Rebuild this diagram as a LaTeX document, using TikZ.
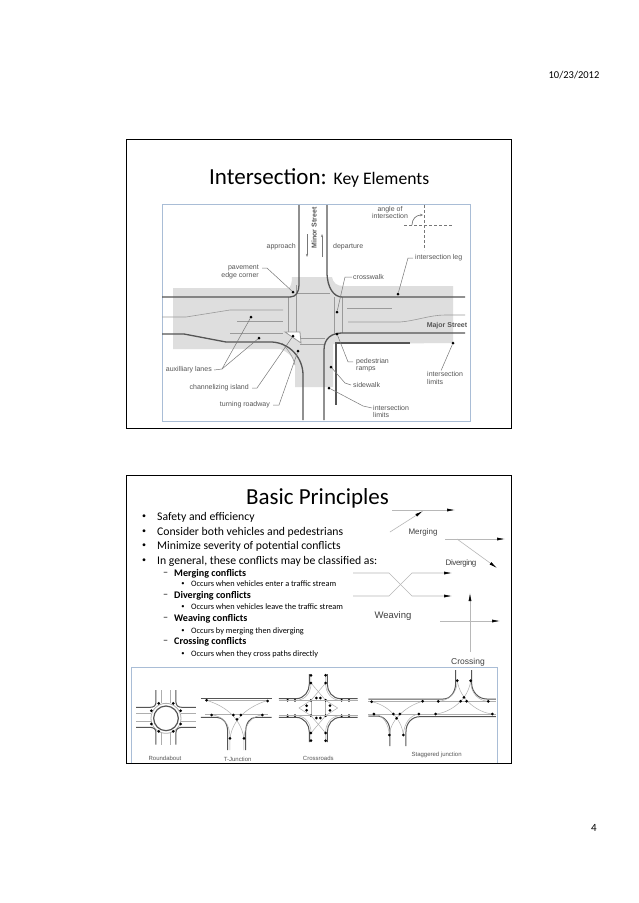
\documentclass[tikz,border=0pt]{standalone}
\usepackage{fontspec}
\setmainfont{Carlito}
\newfontfamily\arialf{Liberation Sans}
\usetikzlibrary{arrows.meta}
\newcommand{\fsz}[1]{\fontsize{#1}{#1}\selectfont}
\definecolor{roadc}{HTML}{555555}
\definecolor{lanec}{HTML}{9A9A9A}
\definecolor{padc}{HTML}{DEDEDE}
\definecolor{labc}{HTML}{555555}
\definecolor{blueb}{HTML}{A9BDD6}
\tikzset{
 x=1pt,y=-1pt,
 slideframe/.style={draw=black,line width=1pt},
 road/.style={draw=roadc,line width=1.3pt},
 lane/.style={draw=lanec,line width=.6pt},
 leader/.style={draw=labc!80,line width=.5pt},
 lbl/.style={font=\arialf\fsz{7},text=labc,inner sep=0pt,align=left},
 dotn/.style={circle,fill=black,inner sep=0pt,minimum size=3pt},
 jd/.style={circle,fill=black,inner sep=0pt,minimum size=3pt},
 jr/.style={draw=roadc,line width=1pt},
 jl/.style={draw=lanec!80,line width=.5pt},
 jlab/.style={font=\arialf\fsz{6},text=labc,inner sep=0pt},
 bul/.style={anchor=west,inner sep=0pt,font=\fsz{11.7}},
 bulm/.style={anchor=center,inner sep=0pt,font=\fsz{8}},
 subb/.style={anchor=west,inner sep=0pt,font=\bfseries\fsz{10.1}},
 subs/.style={anchor=west,inner sep=0pt,font=\fsz{8.3}},
 con/.style={draw=lanec!70,line width=.6pt},
 conar/.style={con,-{Latex[length=8pt,width=3pt,black]}},
 clab/.style={font=\arialf\fsz{8.5},text=black!75,inner sep=0pt},
}
\begin{document}
\begin{tikzpicture}
\useasboundingbox (0,0) rectangle (638,903);
\fill[white] (0,0) rectangle (638,903);
\node[inner sep=0pt,font=\fsz{10.5}] (date) at (574,75) {10/23/2012};
\node[inner sep=0pt,font=\fsz{11}] (pnum) at (594,828) {4};
% ---------- slide 1
\draw[slideframe] (126,139) rectangle (511,428);
\node[anchor=base west,inner sep=0pt] (title1) at (209,184) {\fsz{23}Intersection: \fsz{17.6}Key Elements};
\draw[blueb,line width=.7pt] (162,204) rectangle (470,421);
% pavement
\fill[padc] (173,288) -- (288,288) .. controls (291,288) and (292,282) .. (292,277) -- (332,277)
 .. controls (333,283) and (337,286) .. (343,286) -- (453,286) -- (453,343) -- (333,344) -- (333,387) -- (295,387)
 -- (295,365) .. controls (293,356) and (288,352) .. (280,349) -- (173,349) -- cycle;
% crosswalk lines
\draw[lane] (288,297) -- (288,335) (296,285) -- (296,333) (334,297) -- (334,333) (342,297) -- (342,333);
\draw[lane] (296,293) -- (330,293) (300,338) -- (325,338) (300,344) -- (325,344);
% lanes
\draw[lane] (162,317) -- (186,317) -- (230,310) -- (283,310);
\draw[lane] (237,321) -- (283,321) (230,333) -- (283,333);
\draw[lane] (347,308) -- (392,308);
\draw[lane] (348,322) -- (400,322) .. controls (415,321) and (430,315) .. (445,315) -- (465,315);
% island
\draw[lane,fill=white,line width=.8pt] (285,332) -- (300,332) -- (301,343) -- cycle;
\draw[lane] (282,343) .. controls (288,350) and (293,356) .. (295,365);
% roads
\draw[road] (162,297) -- (290,297) .. controls (296,297) and (299,292) .. (299,285) -- (299,205);
\draw[road] (327,205) -- (327,272) .. controls (327,288) and (334,297) .. (342,297) -- (465,297);
\draw[road] (465,333) -- (342,333) .. controls (332,333) and (324,338) .. (324,350) -- (324,420);
\draw[road] (410,343) -- (336,343) -- (336,405);
\draw[road] (162,334) -- (184,334) -- (226,342) -- (272,342) .. controls (290,343) and (303,358) .. (303,375) -- (303,420);
% street labels
\node[lbl,rotate=90,font=\arialf\bfseries\fsz{7}] (minor) at (314,228) {Minor Street};
\node[lbl,font=\arialf\bfseries\fsz{7}] (major) at (447,326) {Major Street};
\coordinate (ma1) at (307,234); \coordinate (ma2) at (307,257);
\coordinate (mb1) at (322,257); \coordinate (mb2) at (322,234);
\draw[leader,-{Stealth[length=3pt,width=2pt]}] (ma1) -- (ma2);
\draw[leader,-{Stealth[length=3pt,width=2pt]}] (mb1) -- (mb2);
% labels
\node[lbl,anchor=east] (approach) at (296,247) {approach};
\node[lbl,anchor=west] (departure) at (333,247) {departure};
\node[lbl,align=right,anchor=east] (pavement) at (259,272) {pavement\\[.5pt]edge corner};
\node[lbl,anchor=east] (aux) at (212,370) {auxilliary lanes};
\node[lbl,anchor=east] (chan) at (249,388) {channelizing island};
\node[lbl,anchor=east] (turn) at (270,405) {turning roadway};
\node[lbl,anchor=west] (cross) at (353,277) {crosswalk};
\node[lbl,anchor=west] (leg) at (415,258) {intersection leg};
\node[lbl,align=center] (angle) at (390,212.5) {angle of\\[.5pt]intersection};
\node[lbl,anchor=west] (ped) at (356,365) {pedestrian\\[.5pt]ramps};
\node[lbl,anchor=west] (limr) at (427,378) {intersection\\[.5pt]limits};
\node[lbl,anchor=west] (side) at (353,385) {sidewalk};
\node[lbl,anchor=west] (limb) at (373,411.5) {intersection\\[.5pt]limits};
% dots
\node[dotn] (dpav) at (293,292) {};
\node[dotn] (dau1) at (251,317) {};
\node[dotn] (dau2) at (259,338) {};
\node[dotn] (dchan) at (293,336) {};
\node[dotn] (dturn) at (298,351) {};
\node[dotn] (dcross) at (337,312) {};
\node[dotn] (dleg) at (398,294) {};
\node[dotn] (dped) at (337,334) {};
\node[dotn] (dlimr) at (453,343) {};
\node[dotn] (dside) at (331,367) {};
\node[dotn] (dlimb) at (329,388) {};
% leaders
\draw[leader] (pavement.north east) ++(3,3) -- ++(5,0) -- (dpav);
\coordinate (auxj) at (222,369);
\draw[leader] (aux.east) ++(2,0) -- (auxj) -- (dau1);
\draw[leader] (auxj) -- (dau2);
\draw[leader] (chan.east) ++(3,0) -- ++(5,0) -- (dchan);
\draw[leader] (turn.east) ++(3,0) -- ++(6,0) -- (dturn);
\draw[leader] (cross.west) ++(-1,0) -- ++(-7,0) -- (dcross);
\draw[leader] (leg.west) ++(-2,0) -- ++(-5,0) -- (dleg);
\draw[leader] (ped.north west) ++(-3,4) -- ++(-5,0) -- (dped);
\draw[leader] (limr.north) ++(-4,-1) -- (dlimr);
\draw[leader] (side.west) ++(-2,0) -- ++(-6,-2) -- (dside);
\draw[leader] (limb.north west) ++(-1,3) -- ++(-9,-2) -- (dlimb);
% angle mark
\coordinate (av1) at (424,205); \coordinate (av2) at (424,250);
\coordinate (ah1) at (404,225); \coordinate (ah2) at (453,225);
\draw[leader,densely dashed] (av1) -- (av2);
\draw[leader,densely dashed] (ah1) -- (ah2);
\coordinate (ac1) at (412,225); \coordinate (ac2) at (423,215);
\draw[leader,line width=.7pt,-{Stealth[length=3pt,width=2.5pt]}] (ac1) .. controls (412,219) and (416,215) .. (ac2);
% ---------- slide 2
\draw[slideframe] (126,475) rectangle (511,763);
\node[inner sep=0pt,font=\fsz{23}] (title2) at (317.5,498) {Basic Principles};
\foreach \n/\y/\t in {a/517/Safety and efficiency,b/532/Consider both vehicles and pedestrians,c/546/Minimize severity of potential conflicts,d/561/{In general, these conflicts may be classified as:}}{
 \node[bulm] (ba\n) at (144,\y) {•};
 \node[bul] (bt\n) at (157,\y) {\t};
}
\foreach \n/\y/\t in {a/574/Merging conflicts,b/596/Diverging conflicts,c/619/Weaving conflicts,d/642/Crossing conflicts}{
 \node[subb,font=\fsz{10.1}] (da\n) at (163,\y) {–};
 \node[subb] (dt\n) at (174,\y) {\t};
}
\foreach \n/\y/\t in {a/584/Occurs when vehicles enter a traffic stream,b/607/Occurs when vehicles leave the traffic stream,c/631/Occurs by merging then diverging,d/654/Occurs when they cross paths directly}{
 \node[bulm,font=\fsz{6.5}] (sa\n) at (183,\y) {•};
 \node[subs] (st\n) at (191,\y) {\t};
}
% conflict diagrams
\coordinate (m1) at (392,510); \coordinate (m2) at (455,510);
\coordinate (m3) at (390,532); \coordinate (m4) at (423,511);
\draw[conar] (m1) -- (m2);
\draw[conar] (m3) -- (m4);
\node[clab,font=\arialf\fsz{8}] (merging) at (423,532) {Merging};
\coordinate (v1) at (445,539); \coordinate (v2) at (505,539);
\coordinate (v3) at (457,539); \coordinate (v4) at (497,568);
\draw[conar] (v1) -- (v2);
\draw[conar] (v3) -- (v4);
\node[clab,font=\arialf\fsz{8}] (diverging) at (461,563) {\addfontfeature{LetterSpace=-5}Diverging};
\coordinate (w1) at (353,573); \coordinate (w2) at (389,573); \coordinate (w3) at (412,596); \coordinate (w4) at (452,596);
\coordinate (x1) at (353,596); \coordinate (x2) at (389,596); \coordinate (x3) at (412,573); \coordinate (x4) at (452,573);
\draw[conar] (w1) -- (w2) -- (w3) -- (w4);
\draw[conar] (x1) -- (x2) -- (x3) -- (x4);
\node[clab,font=\arialf\fsz{9.5}] (weaving) at (393,616) {Weaving};
\coordinate (c1) at (440,621); \coordinate (c2) at (500,621);
\coordinate (c3) at (470,652); \coordinate (c4) at (470,593);
\draw[conar] (c1) -- (c2);
\draw[conar] (c3) -- (c4);
\node[clab] (crossing) at (468,662) {Crossing};
% junction panel
\draw[blueb,line width=.7pt] (131,763) -- (131,667) -- (497,667) -- (497,763);
\begin{scope}[shift={(125,660)},x=.3333pt,y=-.3333pt]
 % roundabout
 \draw[jl,line width=.8pt] (123,175) circle[radius=45];
 \draw[jr,line width=1.2pt] (123,175) circle[radius=37];
 \foreach \sx/\sy in {1/1,-1/1,1/-1,-1/-1}{
  \begin{scope}[shift={(123,172)},xscale=\sx,yscale=\sy]
   \draw[jr] (-30,-82) -- (-30,-45) .. controls (-30,-35) and (-38,-30) .. (-48,-30) -- (-90,-30);
   \draw[jl] (-14,-82) -- (-14,-44);
   \draw[jl] (-90,-12) -- (-46,-12);
   \node[jd] at (-22,-42) {};
   \node[jd] at (-44,-20) {};
  \end{scope}
 }
 \node[jlab] (lround) at (120,295) {Roundabout};
 % T junction
 \draw[jr] (228,115) -- (440,115);
 \draw[jl] (240,121) -- (428,121);
 \draw[jl] (240,164) -- (428,164);
 \draw[jr] (228,172) -- (275,172) .. controls (295,172) and (308,190) .. (308,215) -- (308,270);
 \draw[jr] (440,172) -- (392,172) .. controls (375,172) and (362,190) .. (362,215) -- (362,270);
 \draw[jl] (245,121) .. controls (290,135) and (345,165) .. (357,235) -- (357,270);
 \draw[jl] (428,121) .. controls (385,135) and (325,165) .. (315,235) -- (315,270);
 \draw[jl] (260,164) .. controls (295,170) and (315,190) .. (315,235);
 \draw[jl] (412,164) .. controls (380,170) and (360,190) .. (357,235);
 \foreach \p in {(245,121),(428,123),(260,165),(325,165),(348,165),(412,165),(336,178),(315,235),(357,235)}{\node[jd] at \p {};}
 \node[jlab] (ltj) at (338,297) {T-Junction};
 % crossroads
 \foreach \sx/\sy in {1/1,-1/1,1/-1,-1/-1}{
  \begin{scope}[shift={(580,144)},xscale=\sx,yscale=\sy]
   \draw[jr] (-27,-102) -- (-27,-72) .. controls (-27,-50) and (-42,-28) .. (-67,-28) -- (-118,-28);
   \draw[jl] (-22,-102) -- (-22,-72) .. controls (-22,-48) and (-38,-23) .. (-67,-23);
   \draw[jl] (-22,-75) -- (22,-23) -- (58,0);
   \draw[jl] (-22,-23) -- (-22,0);
   \node[jd] at (-92,-23) {};
   \node[jd] at (-70,-23) {};
   \node[jd] at (-22,-75) {};
   \node[jd] at (-22,-98) {};
   \node[jd] at (-22,-23) {};
   \node[jd] at (-6,-30) {};
   \node[jd] at (-35,-7) {};
  \end{scope}
 }
 \draw[jl] (462,121) -- (698,121) (462,167) -- (698,167);
 \node[jlab] (lcross) at (580,295) {Crossroads};
\end{scope}
\begin{scope}[shift={(300,660)},x=.3333pt,y=-.3333pt]
 % staggered
 \draw[jr] (205,117) -- (430,117) .. controls (452,117) and (467,95) .. (467,70) -- (467,30);
 \draw[jr] (515,30) -- (515,70) .. controls (515,95) and (535,117) .. (560,117) -- (588,117);
 \draw[jr] (205,168) -- (230,168) .. controls (255,168) and (270,190) .. (270,215) -- (270,258);
 \draw[jr] (588,170) -- (360,170) .. controls (335,170) and (318,190) .. (318,215) -- (318,258);
 \draw[jl] (205,124) -- (588,124) (205,162) -- (588,162);
 \draw[jl] (215,125) .. controls (262,135) and (305,175) .. (310,225);
 \draw[jl] (368,124) .. controls (325,135) and (272,175) .. (268,225);
 \draw[jl] (222,162) .. controls (250,165) and (265,190) .. (268,225);
 \draw[jl] (357,162) .. controls (330,165) and (312,190) .. (310,225);
 \draw[jl] (415,124) .. controls (445,122) and (472,100) .. (472,62);
 \draw[jl] (565,124) .. controls (535,122) and (512,100) .. (512,62);
 \draw[jl] (407,162) .. controls (450,158) and (505,120) .. (512,62);
 \draw[jl] (577,162) .. controls (535,158) and (480,120) .. (472,62);
 \foreach \p in {(215,125),(368,124),(415,124),(565,124),(222,162),(280,162),(300,162),(357,162),(407,162),(577,162),(290,175),(268,225),(310,225),(472,62),(512,62),(492,112),(482,124),(500,124)}{\node[jd] at \p {};}
 \node[jlab] (lstag) at (410,285) {Staggered junction};
\end{scope}
\end{tikzpicture}
\end{document}
